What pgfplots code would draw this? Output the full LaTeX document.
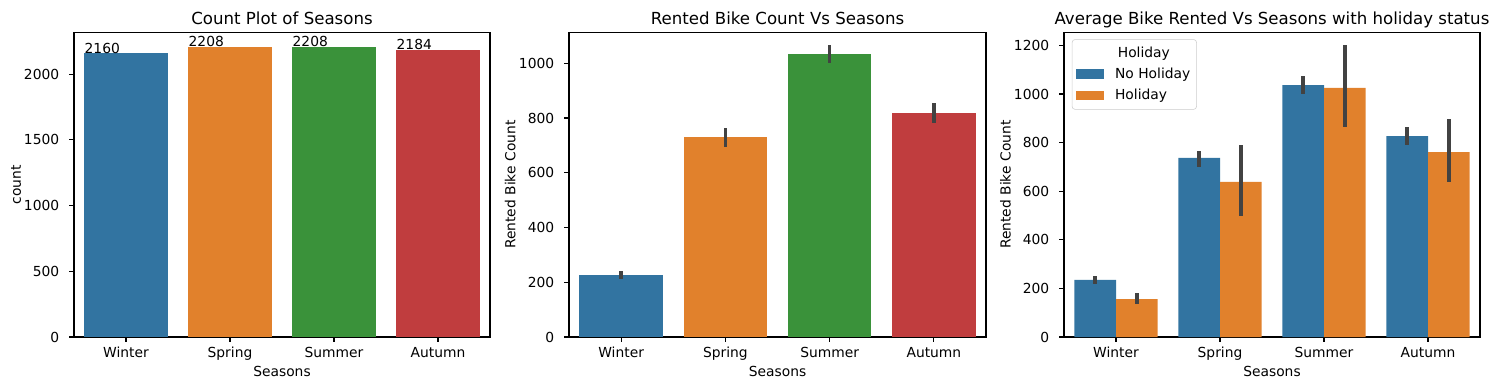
\documentclass[border=0pt]{standalone}
\usepackage{fontspec}
\setmainfont{DejaVu Sans}
\usepackage{pgfplots}
\pgfplotsset{compat=1.18}
\definecolor{cblue}{HTML}{3274A1}
\definecolor{corange}{HTML}{E1812C}
\definecolor{cgreen}{HTML}{3A923A}
\definecolor{cred}{HTML}{C03D3E}
\definecolor{errc}{HTML}{424242}
\pgfplotsset{
  myaxis/.style={
    anchor=south west, scale only axis, height=220.2pt,
    xmin=-0.5, xmax=3.5, ymin=0,
    xtick={0,1,2,3}, xticklabels={Winter,Spring,Summer,Autumn},
    tick align=outside, tick pos=left,
    major tick length=3.5pt,
    major tick style={line width=0.8pt, black},
    axis line style={line width=0.8pt},
    tick label style={font=\fontsize{10}{12}\selectfont},
    xticklabel style={anchor=base, inner sep=0pt, yshift=-11pt},
    yticklabel style={anchor=east, inner sep=0pt, xshift=-7pt},
    title style={at={(axis description cs:0.5,1)}, anchor=base, inner sep=0pt, font=\fontsize{12}{14}\selectfont},
    xlabel={Seasons},
    xlabel style={at={(axis description cs:0.5,0)}, anchor=base, inner sep=0pt, yshift=-28.2pt, font=\fontsize{10}{12}\selectfont},
    ylabel style={anchor=center, inner sep=0pt, font=\fontsize{10}{12}\selectfont},
  },
  mybar/.style={ybar, bar width=0.8, bar shift=0pt, draw=none, fill=#1},
  mybar2/.style={ybar, bar width=0.4, bar shift=0pt, draw=none, fill=#1,
    legend image code/.code={\fill[##1, sharp corners, fill opacity=1] (0pt,-3.6pt) rectangle (20pt,3.6pt);}},
  eb/.style={error bars/.cd, y dir=both, y explicit,
    error bar style={line width=2.6pt, color=errc, line cap=rect}, error mark=none},
}
\begin{document}
\begin{tikzpicture}
\useasboundingbox (0,0) rectangle (1083.33pt,281.85pt);
% Panel 1
\begin{axis}[myaxis, at={(53.48pt,38.30pt)}, width=300.64pt,
  ymax=2318.4, ytick={0,500,1000,1500,2000}, yticklabels={0,500,1000,1500,2000},
  title={Count Plot of Seasons}, ylabel={count},
  ylabel style={at={(axis description cs:-0.139,0.5)}}]
\addplot[mybar=cblue] coordinates {(0,2160)};
\addplot[mybar=corange] coordinates {(1,2208)};
\addplot[mybar=cgreen] coordinates {(2,2208)};
\addplot[mybar=cred] coordinates {(3,2184)};
\node[anchor=base west, inner sep=0pt, font=\fontsize{10}{12}\selectfont] at (axis cs:-0.4,2160) {2160};
\node[anchor=base west, inner sep=0pt, font=\fontsize{10}{12}\selectfont] at (axis cs:0.6,2208) {2208};
\node[anchor=base west, inner sep=0pt, font=\fontsize{10}{12}\selectfont] at (axis cs:1.6,2208) {2208};
\node[anchor=base west, inner sep=0pt, font=\fontsize{10}{12}\selectfont] at (axis cs:2.6,2184) {2184};
\end{axis}
% Panel 2
\begin{axis}[myaxis, at={(411.22pt,38.30pt)}, width=301.37pt,
  ymax=1113, ytick={0,200,400,600,800,1000}, yticklabels={0,200,400,600,800,1000},
  title={Rented Bike Count Vs Seasons}, ylabel={Rented Bike Count},
  ylabel style={at={(axis description cs:-0.141,0.5)}}]
\addplot[mybar=cblue, eb] coordinates {(0,226.5) += (0,6.5) -= (0,6.5)};
\addplot[mybar=corange, eb] coordinates {(1,730) += (0,27) -= (0,28)};
\addplot[mybar=cgreen, eb] coordinates {(2,1034) += (0,26) -= (0,27)};
\addplot[mybar=cred, eb] coordinates {(3,819) += (0,28) -= (0,29)};
\end{axis}
% Panel 3
\begin{axis}[myaxis, at={(768.95pt,38.30pt)}, width=300.64pt,
  ymax=1254, ytick={0,200,400,600,800,1000,1200}, yticklabels={0,200,400,600,800,1000,1200},
  title={Average Bike Rented Vs Seasons with holiday status}, ylabel={Rented Bike Count},
  ylabel style={at={(axis description cs:-0.141,0.5)}},
  legend cell align=left,
  legend style={at={(axis description cs:0.019,0.977)}, anchor=north west,
    draw=black!20, rounded corners=2pt, fill=white, fill opacity=0.8, text opacity=1,
    inner xsep=3pt, inner ysep=3.5pt, row sep=2.2pt,
    font=\fontsize{10}{12}\selectfont,
    /tikz/every odd column/.append style={column sep=6.5pt},
    nodes={inner sep=1.5pt, text height=7.6pt, text depth=2.4pt}}]
\addlegendimage{empty legend}
\addlegendentry{\hspace*{2pt}Holiday}
\addplot[mybar2=cblue, eb] coordinates {
  (-0.2,235) += (0,8) -= (0,8)
  (0.8,737) += (0,23) -= (0,28)
  (1.8,1037) += (0,28) -= (0,28)
  (2.8,827) += (0,29) -= (0,28)};
\addlegendentry{No Holiday}
\addplot[mybar2=corange, eb] coordinates {
  (0.2,156) += (0,16) -= (0,11)
  (1.2,638) += (0,143) -= (0,131)
  (2.2,1025) += (0,169) -= (0,152)
  (3.2,761) += (0,128) -= (0,114)};
\addlegendentry{Holiday}
\end{axis}
\end{tikzpicture}
\end{document}
